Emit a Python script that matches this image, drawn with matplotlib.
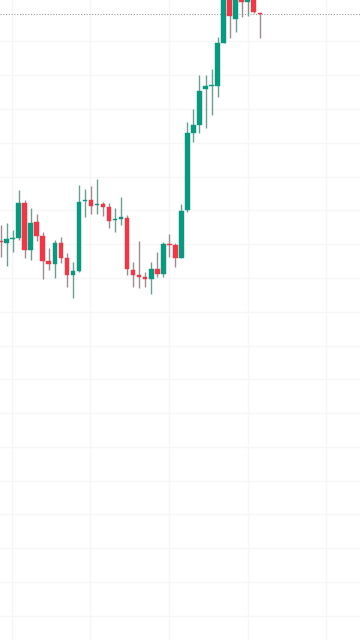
import numpy as np
import matplotlib
matplotlib.use("Agg")
import matplotlib.pyplot as plt

opens = [105.93, 105.73, 106.13, 106.23, 109.70, 105.00, 107.77, 106.43, 103.90, 103.57,
         105.73, 104.17, 102.50, 102.90, 109.90, 110.00, 109.47, 109.57, 109.27, 108.03,
         108.13, 108.23, 103.00, 102.50, 102.30, 102.07, 103.07, 102.63, 105.60, 105.50,
         104.23, 109.00, 116.73, 117.50, 121.07, 121.40, 121.40, 125.75, 130.50, 128.10,
         130.30, 129.83, 130.00, 128.73]
closes = [105.80, 106.07, 106.23, 109.67, 105.00, 107.73, 106.43, 103.90, 103.57, 105.67,
          104.23, 102.50, 102.90, 109.83, 110.03, 109.43, 109.57, 109.27, 107.93, 108.13,
          108.27, 103.07, 102.50, 102.33, 102.07, 103.07, 102.63, 105.60, 105.47, 104.23,
          108.93, 116.67, 117.50, 120.93, 121.40, 121.50, 125.73, 130.80, 128.43, 130.30,
          129.83, 130.20, 128.83, 128.63]
highs = [107.50, 107.70, 107.00, 111.00, 110.00, 109.20, 108.60, 106.80, 105.20, 106.00,
         106.33, 104.70, 103.80, 111.50, 111.10, 111.43, 112.10, 109.83, 109.67, 109.17,
         110.33, 108.50, 103.77, 105.90, 102.83, 103.77, 104.77, 105.83, 106.57, 105.67,
         109.57, 117.83, 119.07, 122.50, 122.50, 123.15, 126.27, 131.50, 131.00, 131.00,
         131.00, 131.00, 130.50, 128.75]
lows = [104.30, 103.40, 104.80, 106.00, 104.23, 104.00, 105.93, 102.10, 103.00, 102.20,
        103.67, 101.33, 100.23, 102.83, 108.33, 108.57, 108.57, 108.43, 107.23, 106.83,
        107.50, 102.50, 101.33, 101.23, 101.33, 100.57, 102.30, 102.30, 104.27, 103.27,
        104.17, 108.83, 115.83, 116.67, 117.17, 118.50, 120.33, 125.70, 126.23, 126.83,
        128.27, 128.40, 128.67, 126.25]

UP = "#089981"
DOWN = "#f23645"
UP_WICK = "#6a9f93"
DOWN_WICK = "#a08b8f"

fig = plt.figure(figsize=(3.6, 6.4), dpi=100)
ax = fig.add_axes([0, 0, 1, 1])
fig.patch.set_facecolor("white")
ax.set_facecolor("white")

step = 6.03
x0 = 0.5
n = len(opens)
xs = np.arange(n)

ylo, yhi = 66.0, 130.0
# grid
for gx in np.arange(11.5, 360, 78.7):
    ax.axvline((gx - x0) / step, color="#f6f6f8", lw=1.0, zorder=0)
for gy in np.arange(41.3, 640, 33.8):
    p = yhi - gy / 640 * (yhi - ylo)
    ax.axhline(p, color="#f6f6f8", lw=1.0, zorder=0)

# price line
ax.axhline(closes[-1], color="#9a9a9a", lw=0.8, ls=(0, (1, 1.5)), zorder=1)

bw = 0.75
for i in range(n):
    o, c, h, l = opens[i], closes[i], highs[i], lows[i]
    up = c >= o
    col = UP if up else DOWN
    wcol = UP_WICK if up else DOWN_WICK
    ax.vlines(xs[i], l, h, color=wcol, lw=1.0, zorder=2)
    bottom = min(o, c)
    height = max(abs(c - o), 0.12)
    ax.bar(xs[i], height, bottom=bottom, width=bw, color=col, edgecolor=col, lw=0.3, zorder=3)

ax.set_xlim((0 - x0) / step, (360 - x0) / step)
ax.set_ylim(ylo, yhi)
ax.axis("off")

fig.savefig("out.png", dpi=100, facecolor="white")
